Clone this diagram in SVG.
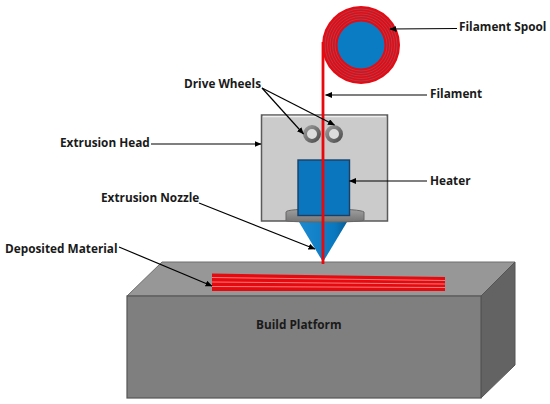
<svg xmlns="http://www.w3.org/2000/svg" width="550" height="404" viewBox="0 0 550 404">
<defs>
<marker id="ah" markerUnits="userSpaceOnUse" markerWidth="7" markerHeight="6" refX="6.5" refY="3" orient="auto"><path d="M0 0L7 3L0 6Z" fill="#000"/></marker>
<linearGradient id="nz" x1="0" x2="1" y1="0" y2="0"><stop offset="0" stop-color="#1c8ad0"/><stop offset=".75" stop-color="#0a78bf"/><stop offset="1" stop-color="#075f9a"/></linearGradient>
<linearGradient id="ring" x1="0" x2="1" y1="0" y2="1"><stop offset="0" stop-color="#9a9a9a"/><stop offset="1" stop-color="#4f4f4f"/></linearGradient>
<linearGradient id="fl" x1="0" x2="0" y1="0" y2="1"><stop offset="0" stop-color="#a0a0a0"/><stop offset="1" stop-color="#747474"/></linearGradient>
</defs>
<style>
text{font-family:"Open Sans","Liberation Sans",sans-serif;font-size:11.800px;font-weight:700;fill:#1a1a1a}
.c{fill:none;stroke:#000;stroke-width:1.200;marker-end:url(#ah)}
.wire{fill:none;stroke:#a04a5c;stroke-width:.8}
.sep{stroke:#f08a8a;stroke-width:.9;fill:none}
.wheel{fill:#dcdcdc;stroke:url(#ring);stroke-width:4}
</style>
<rect width="550" height="404" fill="#fff"/>
<g id="build-platform">
<path d="M127 296L162 262H515L481 296Z" fill="#979797" stroke="#6e6e6e" stroke-width="1"/>
<path d="M481 296L515 262V365L481 398Z" fill="#636363" stroke="#555" stroke-width="1"/>
<rect x="127" y="296" width="354" height="102" fill="#7f7f7f" stroke="#555" stroke-width="1.200"/>
<text x="256" y="329">Build Platform</text>
</g>
<g id="deposited-material">
<path d="M212 273.500L445 277V291L212 291Z" fill="#e60a0f"/>
<path class="sep" d="M212 277.500L445 280.500M212 282L445 284M212 286.500L445 287.500"/>
<text x="5" y="253">Deposited Material</text>
</g>
<g id="extrusion-head">
<rect x="261.500" y="115" width="126" height="106" fill="#cbcbcb" stroke="#5a5a5a" stroke-width="1.500"/>
<path d="M263 116.500H386" stroke="#efefef" stroke-width="1.500"/>
<text x="60" y="147">Extrusion Head</text>
</g>
<g id="extrusion-nozzle">
<path d="M299 222H347L323 262Z" fill="url(#nz)"/>
<text x="101" y="202">Extrusion Nozzle</text>
</g>
<g id="flange">
<path d="M286 212Q286 209 323 209T364 212V220Q364 222 323 222T286 220Z" fill="url(#fl)" stroke="#666" stroke-width="1"/>
</g>
<g id="heater">
<rect x="298" y="160" width="51.500" height="55.500" fill="#0a76bd" stroke="#1c3f66" stroke-width="1.400"/>
<text x="430" y="185">Heater</text>
</g>
<g id="drive-wheels">
<circle cx="312" cy="134" r="7" class="wheel"/>
<circle cx="334" cy="134" r="7" class="wheel"/>
<text x="261" y="88" text-anchor="end">Drive Wheels</text>
</g>
<g id="filament-spool">
<circle cx="361" cy="45" r="39" fill="#e30b14"/>
<circle cx="361" cy="45" r="36" class="wire"/>
<circle cx="361" cy="45" r="33.500" class="wire"/>
<circle cx="361" cy="45" r="31" class="wire"/>
<circle cx="361" cy="45" r="28.500" class="wire"/>
<circle cx="361" cy="45" r="26" class="wire"/>
<circle cx="361" cy="45" r="23.500" fill="#0a7cc4"/>
<text x="459" y="31">Filament Spool</text>
</g>
<g id="filament">
<path d="M323 42V264" stroke="#e8090f" stroke-width="2.800" fill="none"/>
<text x="430" y="98">Filament</text>
</g>
<g id="connectors">
<path class="c" d="M457 28.500L390 29"/>
<path class="c" d="M427 95H325.500"/>
<path class="c" d="M262 88L303.500 134"/>
<path class="c" d="M262 88L334.500 125"/>
<path class="c" d="M151 144H261"/>
<path class="c" d="M427 181H349.500"/>
<path class="c" d="M199 203L315 249"/>
<path class="c" d="M119 247L212 286"/>
</g>
</svg>
